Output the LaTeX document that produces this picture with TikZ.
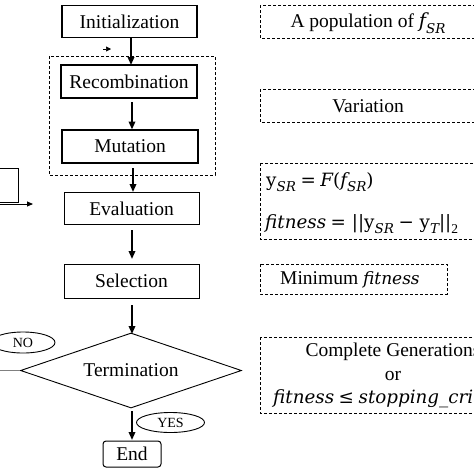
\documentclass[tikz,border=0pt]{standalone}
\usepackage{fontspec}
\setmainfont{Liberation Serif}
\newfontfamily\mfont{DejaVu Serif}
\usetikzlibrary{shapes.geometric,arrows.meta}
\newcommand{\mi}[1]{{\mfont\itshape #1}}
\newcommand{\mr}[1]{{\mfont #1}}
\newcommand{\msub}[1]{\raisebox{-0.3em}{\fontsize{13.5}{14}\selectfont\mfont\itshape #1}}
\tikzset{
  box/.style={draw, line width=1.2pt, inner sep=0pt, font=\fontsize{19.5}{22}\selectfont},
  dbox/.style={draw, dashed, dash pattern=on 3pt off 2pt, line width=0.9pt},
  flow/.style={line width=1.8pt, -{Triangle[length=8pt,width=6.5pt]}},
  lbl/.style={draw, ellipse, line width=0.9pt, inner sep=0pt, font=\fontsize{14}{16}\selectfont},
  rtext/.style={font=\fontsize{19.5}{22}\selectfont, inner sep=0pt},
  mtext/.style={font=\fontsize{18.3}{20}\selectfont, inner sep=0pt}
}
\begin{document}
\begin{tikzpicture}[x=1pt,y=-1pt]
\useasboundingbox (0,0) rectangle (474,474);
\clip (0,0) rectangle (474,474);
% left boxes
\node[box, minimum width=135pt, minimum height=32pt] (init) at (129.5,21.5) {Initialization};
\node[box, line width=1.5pt, minimum width=136pt, minimum height=33pt] (rec) at (129,81.5) {Recombination};
\node[box, line width=1.5pt, minimum width=136pt, minimum height=33pt] (mut) at (130,146.5) {Mutation};
\node[box, line width=1pt, minimum width=135pt, minimum height=32pt] (eva) at (131.5,208.5) {Evaluation};
\node[box, line width=1pt, minimum width=135pt, minimum height=34pt] (sel) at (131.5,281) {Selection};
\node[box, line width=0.9pt, diamond, shape aspect=2.95, minimum width=221pt, minimum height=75pt] (term) at (131,370.5) {Termination};
\node[box, line width=1pt, rounded corners=3pt, minimum width=58pt, minimum height=26pt] (end) at (132,454) {End};
% dashed group
\draw[dbox] (49,56) rectangle (215,175);
% arrows
\draw[flow] (131,38) -- (131,65);
\draw[flow] (132,102) -- (132,129.5);
\draw[flow] (133,168) -- (133,192);
\draw[flow] (132,230) -- (132,259);
\draw[flow] (132,305) -- (132,334);
\draw[flow] (132,411) -- (132,440);
% stray tip
\coordinate (tipA) at (103,49);
\coordinate (tipB) at (111,49);
\draw[line width=0.6pt, -{Triangle[length=5pt,width=5pt]}] (tipA) -- (tipB);
% labels
\node[lbl, minimum width=64pt, minimum height=21pt] (no) at (23,342.5) {NO};
\node[lbl, minimum width=68pt, minimum height=20pt] (yes) at (170.5,422.5) {YES};
% left partial box and lines
\draw[line width=1pt] (-5,168) rectangle (18,202);
\coordinate (lin) at (0,204);
\coordinate (lout) at (33,204);
\draw[line width=0.9pt, -{Triangle[length=6pt,width=5pt]}] (lin) -- (lout);
\coordinate (nol) at (0,370.5);
\draw[line width=1.2pt, gray] (nol) -- (term.west);
% right dashed boxes
\draw[dbox] (260,5) rectangle (490,38);
\node[rtext] (t1) at (368,23) {A population of \mi{f}\msub{SR}};
\draw[dbox] (260,89) rectangle (490,122);
\node[rtext] (t2) at (368,106) {Variation};
\draw[dbox] (260,163) rectangle (490,239.5);
\node[mtext, anchor=west] (t3) at (266,182) {\mr{y}\msub{SR} \mr{=} \mi{F}\mr{(}\mi{f}\msub{SR}\mr{)}};
\node[mtext, anchor=west] (t4) at (265,224) {\mi{fitness} \mr{= ||y}\msub{SR} \mr{− y}\msub{T}\mr{||}\raisebox{-0.3em}{\fontsize{13.5}{14}\selectfont 2}};
\draw[dbox] (260,264) rectangle (447,294);
\node[rtext, anchor=west] (t5) at (280,280) {Minimum \mi{\fontsize{17}{20}\selectfont fitness}};
\draw[dbox] (260,337) rectangle (490,413);
\node[rtext] (t6) at (393,352) {Complete Generations};
\node[rtext] (t7) at (393,376) {or};
\node[mtext, anchor=west] (t8) at (273,399) {\mi{fitness} \mr{≤} \mi{stopping\_criteria}};
\end{tikzpicture}
\end{document}
